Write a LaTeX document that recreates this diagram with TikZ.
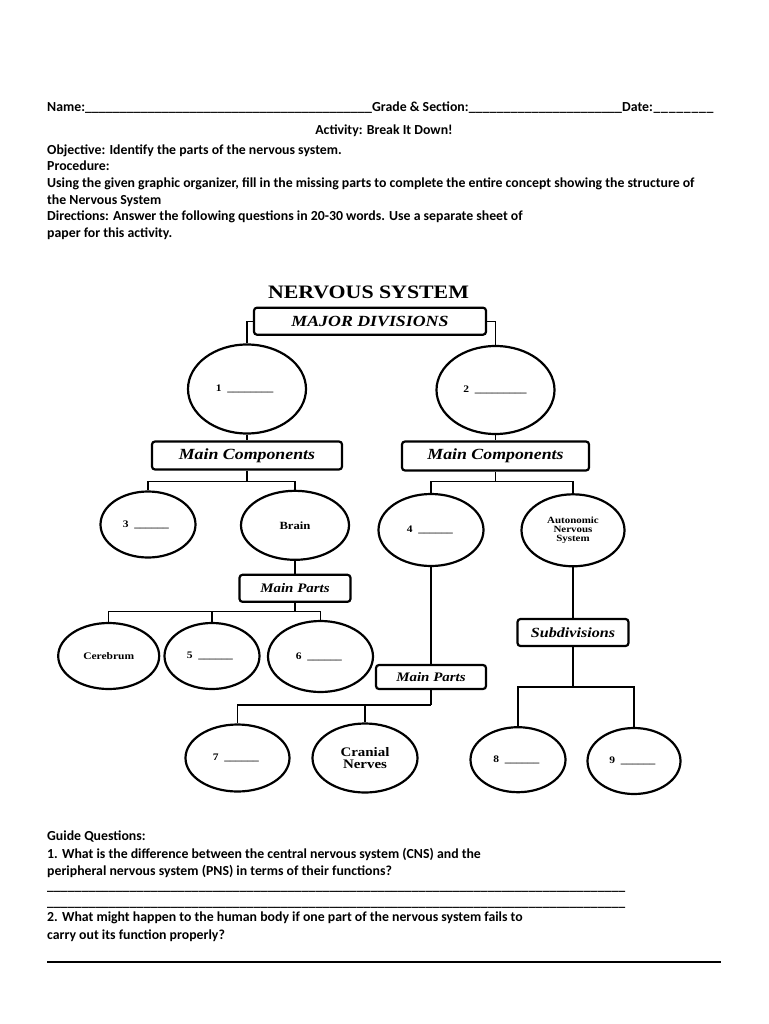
\documentclass[tikz,border=0pt]{standalone}
\usepackage{fontspec}
\setmainfont{Carlito}
\newfontfamily\dserif[FakeStretch=1.15]{Liberation Serif}
\usetikzlibrary{shapes.geometric}
\newcommand\blankline[1]{\leavevmode\leaders\hbox{\_}\hskip#1\relax}
\newcommand\fillus{\xleaders\hbox{\_}\hfill}
\tikzset{
  body/.style={anchor=base west, inner sep=0pt, font=\bfseries\fontsize{13.8}{16.6}\selectfont},
  oval/.style={ellipse, draw, line width=2.2pt, inner sep=0pt, align=center,
    font=\dserif\bfseries\fontsize{10}{10}\selectfont},
  hbox/.style={draw, line width=2.2pt, rounded corners=3pt, inner sep=0pt,
    font=\dserif\bfseries\itshape\fontsize{13}{13}\selectfont},
  conn/.style={line width=1.4pt}
}
\begin{document}
\begin{tikzpicture}[x=1pt,y=-1pt]
\fill[white] (0,0) rectangle (768,1024);
\useasboundingbox (0,0) rectangle (768,1024);

% header text
\node[body] (name) at (47,112) {\makebox[325pt][l]{Name:\fillus}};
\node[body] (grade) at (372,112) {\makebox[250pt][l]{Grade \& Section:\fillus}};
\node[body] (date) at (622,112) {\makebox[92pt][l]{Date:\fillus}};
\node[body, anchor=base] (act) at (384,135) {Activity: Break It Down!};
\node[body] (obj) at (47,154.5) {Objective: Identify the parts of the nervous system.};
\node[body] (proc) at (47,171) {Procedure:};
\node[body] (using) at (47,188) {Using the given graphic organizer, fill in the missing parts to complete the entire concept showing the structure of};
\node[body] (thens) at (47,204.5) {the Nervous System};
\node[body] (dir) at (47,221) {Directions: Answer the following questions in 20-30 words. Use a separate sheet of};
\node[body] (paper) at (47,237.5) {paper for this activity.};

% diagram
\node[font=\dserif\bfseries\fontsize{19}{19}\selectfont, inner sep=0pt] (title) at (368.5,292.5) {NERVOUS SYSTEM};
\node[hbox, minimum width=232pt, minimum height=27pt, font=\dserif\bfseries\itshape\fontsize{15.5}{15.5}\selectfont] (md) at (370,321.2) {MAJOR DIVISIONS};

\node[oval, minimum width=118pt, minimum height=89pt] (e1) at (247,389) {1\,\blankline{55pt}};
\node[oval, minimum width=118pt, minimum height=88pt] (e2) at (495.5,390) {2\,\blankline{57pt}};

\node[hbox, minimum width=190pt, minimum height=28pt, font=\dserif\bfseries\itshape\fontsize{15.5}{15.5}\selectfont] (mc1) at (247,455.5) {Main Components};
\node[hbox, minimum width=187pt, minimum height=29pt, font=\dserif\bfseries\itshape\fontsize{15.5}{15.5}\selectfont] (mc2) at (495.5,456) {Main Components};

\node[oval, minimum width=95pt, minimum height=66pt] (e3) at (148,524.5) {3\,\blankline{43pt}};
\node[oval, minimum width=108pt, minimum height=69pt, font=\dserif\bfseries\fontsize{11}{11}\selectfont] (brain) at (295,525.3) {Brain};
\node[oval, minimum width=105pt, minimum height=72pt] (e4) at (431,530) {4\,\blankline{41pt}};
\node[oval, minimum width=103pt, minimum height=72pt, font=\dserif\bfseries\fontsize{9.5}{8.7}\selectfont] (ans) at (573,530.3) {Autonomic\\Nervous\\System};

\node[hbox, minimum width=111pt, minimum height=27pt] (mp1) at (295,588.3) {Main Parts};
\node[oval, minimum width=101pt, minimum height=66pt] (cer) at (108.7,656) {Cerebrum};
\node[oval, minimum width=95pt, minimum height=66pt] (e5) at (212,656) {5\,\blankline{43pt}};
\node[oval, minimum width=105pt, minimum height=71pt] (e6) at (320.5,656.5) {6\,\blankline{42pt}};

\node[hbox, minimum width=111pt, minimum height=27pt, font=\dserif\bfseries\itshape\fontsize{14}{14}\selectfont] (sub) at (573,632.5) {Subdivisions};
\node[hbox, minimum width=110pt, minimum height=24pt] (mp2) at (431,677) {Main Parts};

\node[oval, minimum width=104pt, minimum height=67pt] (e7) at (237.5,758) {7\,\blankline{42pt}};
\node[oval, minimum width=105pt, minimum height=69pt, font=\dserif\bfseries\fontsize{13}{11.5}\selectfont] (cran) at (365,758) {Cranial\\Nerves};
\node[oval, minimum width=95pt, minimum height=65pt] (e8) at (518,759.7) {8\,\blankline{42pt}};
\node[oval, minimum width=93pt, minimum height=66pt] (e9) at (634,761) {9\,\blankline{42pt}};

% connectors
\draw[conn] (md.west) -| (e1.north);
\draw[conn] (md.east) -| (e2.north);
\draw[conn] (e1.south) -- (mc1.north);
\draw[conn] (e2.south) -- (mc2.north);
\coordinate (j1) at (247,481.5);
\draw[conn] (mc1.south) -- (j1);
\draw[conn] (e3.north) |- (j1) -| (brain.north);
\coordinate (j2) at (495.5,481.7);
\draw[conn] (mc2.south) -- (j2);
\draw[conn] (e4.north) |- (j2) -| (ans.north);
\draw[conn] (brain.south) -- (mp1.north);
\coordinate (j3) at (295,611.7);
\draw[conn] (mp1.south) -- (j3);
\draw[conn] (cer.north) |- (j3) -| (e6.north);
\draw[conn] (e5.north) -- (e5.north |- j3);
\draw[conn] (e4.south) -- (mp2.north);
\coordinate (j4) at (431,705);
\draw[conn] (mp2.south) -- (j4);
\draw[conn] (e7.north) |- (j4);
\draw[conn] (cran.north) -- (cran.north |- j4);
\draw[conn] (ans.south) -- (sub.north);
\coordinate (j5) at (573,687);
\draw[conn] (sub.south) -- (j5);
\draw[conn] (e8.north) |- (j5) -| (e9.north);

% questions
\node[body] (gq) at (47,840) {Guide Questions:};
\node[body] (q1) at (47,858) {1. What is the difference between the central nervous system (CNS) and the};
\node[body] (q1b) at (47,875) {peripheral nervous system (PNS) in terms of their functions?};
\node[body] (l1) at (47,890) {\makebox[578pt][l]{\fillus}};
\node[body] (l2) at (47,906) {\makebox[578pt][l]{\fillus}};
\node[body] (q2) at (47,921) {2. What might happen to the human body if one part of the nervous system fails to};
\node[body] (q2b) at (47,939) {carry out its function properly?};
\draw[line width=1.5pt] (47,962) -- (721,962);
\end{tikzpicture}
\end{document}
